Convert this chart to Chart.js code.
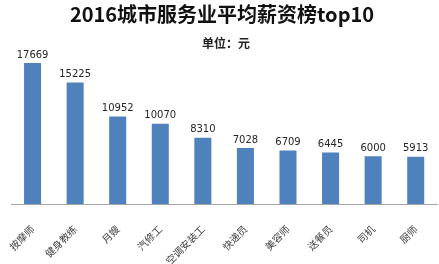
<!DOCTYPE html>
<html>
<head>
<meta charset="utf-8">
<script src="https://cdn.jsdelivr.net/npm/chart.js@4"></script>
<style>
  html, body { margin: 0; padding: 0; background: #fff; }
  #wrap { width: 439px; height: 264px; }
</style>
</head>
<body>
<div id="wrap"><canvas id="salaryChart"></canvas></div>
<script>
const jobs = ['按摩师', '健身教练', '月嫂', '汽修工', '空调安装工', '快递员', '美容师', '送餐员', '司机', '厨师'];
const salaries = [17669, 15225, 10952, 10070, 8310, 7028, 6709, 6445, 6000, 5913];

// numbers above each bar
const valueLabels = {
    id: 'valueLabels',
    afterDatasetsDraw(chart) {
        const ctx = chart.ctx;
        const meta = chart.getDatasetMeta(0);
        ctx.save();
        ctx.font = '10px "DejaVu Sans", sans-serif';
        ctx.fillStyle = '#262626';
        ctx.textAlign = 'center';
        ctx.textBaseline = 'bottom';
        meta.data.forEach((bar, i) => {
            ctx.fillText(String(salaries[i]), bar.x, bar.y - 3);
        });
        ctx.restore();
    }
};

const ctx = document.getElementById('salaryChart').getContext('2d');
const myChart = new Chart(ctx, {
    type: 'bar',
    data: {
        labels: jobs,
        datasets: [
            { label: '平均薪资', data: salaries, backgroundColor: '#4f81bd', categoryPercentage: 1, barPercentage: 0.4 }
        ]
    },
    options: {
        responsive: true, maintainAspectRatio: false,
        animation: false,
        layout: { padding: { left: 7, right: 2, top: 0, bottom: 0 } },
        scales: {
            x: {
                grid: { display: false },
                border: { display: true, color: '#a6a6a6' },
                ticks: {
                    color: '#404040',
                    font: { family: '"Noto Sans CJK SC", sans-serif', size: 10 },
                    minRotation: 45, maxRotation: 45,
                    padding: 11
                },
                afterFit(scale) { scale.height = 60; }
            },
            y: { display: false, beginAtZero: true, max: 19000 }
        },
        plugins: {
            legend: { display: false },
            tooltip: { enabled: false },
            title: {
                display: true,
                text: '2016城市服务业平均薪资榜top10',
                color: '#111',
                font: { family: '"Noto Sans CJK SC", sans-serif', size: 20, weight: 'bold' },
                padding: { top: 2, bottom: 2 }
            },
            subtitle: {
                display: true,
                text: '   单位：元',
                color: '#222',
                font: { family: '"Noto Sans CJK SC", sans-serif', size: 12, weight: 'bold' },
                padding: { top: 8, bottom: 2 }
            }
        }
    },
    plugins: [valueLabels]
});
</script>
</body>
</html>
